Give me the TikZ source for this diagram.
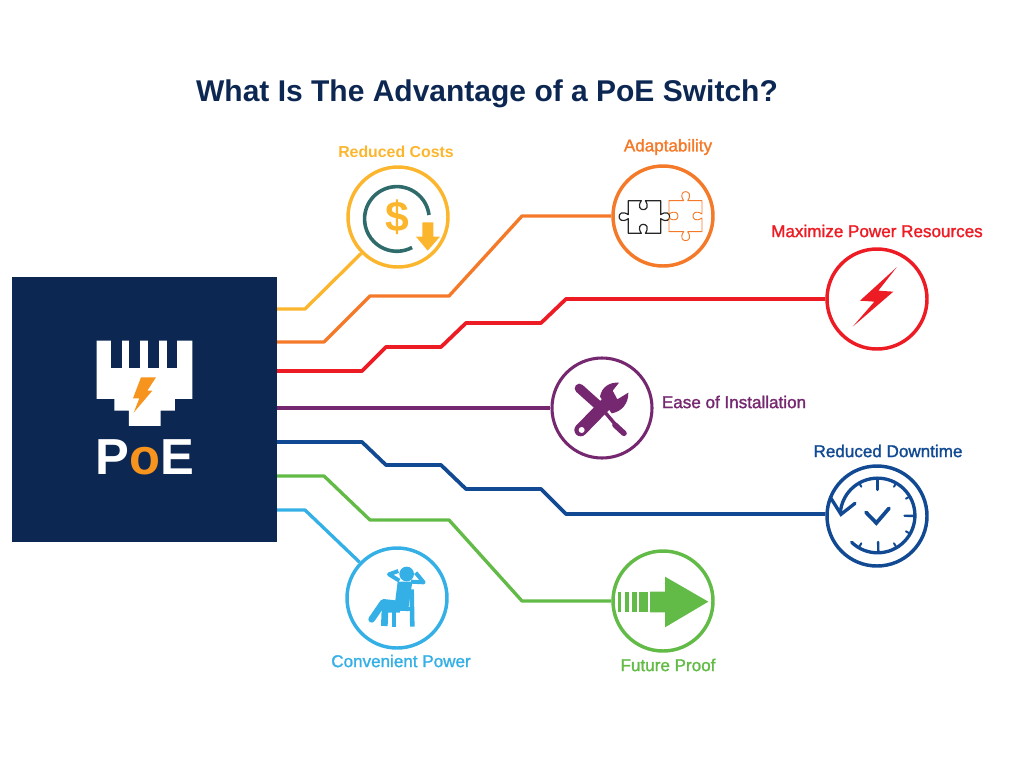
\documentclass[tikz,border=0pt]{standalone}
\usepackage{fontspec}
\setmainfont{Liberation Sans}
\newfontfamily\tagfont[FakeBold=1.5]{Liberation Sans}
\usetikzlibrary{calc}
\definecolor{navy}{HTML}{0D2753}
\definecolor{costcol}{HTML}{FBB62E}
\definecolor{adaptcol}{HTML}{F47A2A}
\definecolor{powercol}{HTML}{ED1C24}
\definecolor{easecol}{HTML}{75276F}
\definecolor{downcol}{HTML}{114A92}
\definecolor{futurecol}{HTML}{62BB46}
\definecolor{convcol}{HTML}{35B0E6}
\definecolor{tealcol}{HTML}{2F6B6B}
\definecolor{boltcol}{HTML}{F7941D}
\tikzset{
  ring/.style={circle, draw=#1, line width=2.6pt, minimum size=75pt, inner sep=0pt},
  link/.style={draw=#1, line width=2.5pt, line join=round},
  tag/.style={text=#1, font=\tagfont\fontsize{12.8}{14}\selectfont, inner sep=0pt}
}
\begin{document}
\begin{tikzpicture}[x=0.75pt, y=-0.75pt]
  \useasboundingbox (0,0) rectangle (1024,768);
  \node (title) at (487,94) [text=navy, font=\fontsize{22.5}{27}\selectfont\bfseries, inner sep=0pt] {What Is The Advantage of a PoE Switch?};
  \fill [navy] (12,277) rectangle (277,542);
  \coordinate (p1) at (277,309);
  \coordinate (p2) at (277,342);
  \coordinate (p3) at (277,371);
  \coordinate (p4) at (277,408);
  \coordinate (p5) at (277,442);
  \coordinate (p6) at (277,476);
  \coordinate (p7) at (277,510);
  \node (costs) at (398,217) [ring=costcol] {};
  \node (adapt) at (663,216) [ring=adaptcol] {};
  \node (power) at (877,299) [ring=powercol] {};
  \node (ease) at (602,408) [ring=easecol, line width=2.3pt] {};
  \node (down) at (877,516) [ring=downcol] {};
  \node (future) at (663,601) [ring=futurecol] {};
  \node (conv) at (397,598) [ring=convcol] {};
  \draw [link=costcol] (p1) -- (305,309) -- (costs);
  \draw [link=adaptcol] (p2) -- (324,342) -- (370,296) -- (449,296) -- (522,216) -- (adapt);
  \draw [link=powercol, line width=2.8pt] (p3) -- (362,371) -- (386,347) -- (441,347) -- (466,323) -- (541,323) -- (566,299) -- (power);
  \draw [link=easecol] (p4) -- (ease);
  \draw [link=downcol, line width=2.8pt] (p5) -- (362,442) -- (386,465) -- (441,465) -- (466,489) -- (541,489) -- (566,514) -- (down.west |- 566,514);
  \draw [link=futurecol] (p6) -- (324,476) -- (370,520) -- (449,520) -- (522,601) -- (future);
  \draw [link=convcol] (p7) -- (305,510) -- (conv);
  \node (coststag) at (396,152) [tag=costcol, font=\fontsize{11.9}{14}\selectfont\bfseries] {Reduced Costs};
  \node (adapttag) at (668,147) [tag=adaptcol] {Adaptability};
  \node (powertag) at (877,231) [tag=powercol] {Maximize Power Resources};
  \node (easetag) at (734,402) [tag=easecol] {Ease of Installation};
  \node (downtag) at (888,451) [tag=downcol] {Reduced Downtime};
  \node (futuretag) at (668,665) [tag=futurecol] {Future Proof};
  \node (convtag) at (401,661) [tag=convcol] {Convenient Power};
  \begin{scope}[shift={(60,320)}, scale=0.3333]
    \fill [white] (110,62) -- (397,62) -- (397,237) -- (345,237) -- (345,272) -- (302,272) -- (302,318) -- (207,318) -- (207,272) -- (163,272) -- (163,237) -- (110,237) -- cycle;
    \foreach \a/\b in {152/185, 208/240, 265/297, 320/352}
      \fill [navy] (\a,60) rectangle (\b,145);
    \fill [boltcol] (243,172) -- (288,172) -- (262,212) -- (277,212) -- (221,278) -- (238,235) -- (219,235) -- cycle;
    \node (poetext) at (254,412) [font=\fontsize{38}{40}\selectfont\bfseries, text=white, inner sep=0pt] {P\textcolor{boltcol}{o}E};
  \end{scope}
  \begin{scope}[shift={(330,140)}, scale=0.3333]
    \draw [tealcol, line width=2.7pt] (297,225) arc [start angle=-7, end angle=-298, radius=97];
    \fill [costcol] (277,247) -- (310,247) -- (310,290) -- (330,290) -- (293,332) -- (258,290) -- (277,290) -- cycle;
    \node (dollar) at (202,232) [font=\fontsize{32}{34}\selectfont\bfseries, text=costcol, inner sep=0pt] {\$};
  \end{scope}
  \begin{scope}[shift={(600,140)}, scale=0.3333]
    \draw [black!85, line width=0.9pt, line join=round] (85,182) -- (124,182) .. controls (100,218) and (160,218) .. (136,182) -- (182,182) -- (182,224) .. controls (218,200) and (218,260) .. (182,236) -- (182,280) -- (136,280) .. controls (160,244) and (100,244) .. (124,280) -- (85,280) -- (85,236) .. controls (48,260) and (48,200) .. (85,224) -- cycle;
    \draw [adaptcol, line width=0.7pt, line join=round] (207,182) -- (251,182) .. controls (227,146) and (287,146) .. (263,182) -- (306,182) -- (306,222) .. controls (270,198) and (270,258) .. (306,234) -- (306,275) -- (263,275) .. controls (287,311) and (227,311) .. (251,275) -- (207,275) -- (207,234) .. controls (243,258) and (243,198) .. (207,222) -- cycle;
  \end{scope}
  \begin{scope}[shift={(815,240)}, scale=0.3333]
    \fill [powercol] (245,82) -- (135,182) -- (178,185) -- (113,260) -- (235,155) -- (190,152) -- cycle;
  \end{scope}
  \begin{scope}[shift={(540,350)}, scale=0.3333]
    \draw [easecol, line width=7pt, line cap=round] (118,115) -- (185,175);
    \draw [easecol, line width=2.6pt] (185,175) -- (230,228);
    \draw [easecol, line width=4.2pt, line cap=round] (225,225) -- (252,250);
    \draw [easecol, line width=9.5pt, line cap=round] (122,240) -- (205,155);
    \fill [easecol] (180,140) .. controls (185,110) and (210,96) .. (237,98) -- (218,122) -- (232,148) -- (265,128) .. controls (266,160) and (245,185) .. (215,190) -- cycle;
    \fill [white] (125,240) circle [radius=9];
  \end{scope}
  \begin{scope}[shift={(815,455)}, scale=0.3333, line cap=round]
    \draw [downcol, line width=2.5pt] (110,262) arc [start angle=134, end angle=-175, radius=112];
    \draw [downcol, line width=2.5pt] (48,130) -- (78,178) -- (120,145);
    \draw [downcol, line width=2.8pt] (153,172) -- (184,204) -- (222,160);
    \foreach \a/\b in {188/75, 190/292, 300/183}
      \draw [downcol, line width=1.8pt] (\a,\b) -- ($(188,180)!0.72!(\a,\b)$);
    \foreach \ang in {-60,-30,30,60,120,-120}
      \draw [downcol, line width=1.5pt] ($(188,180)+(\ang:112)$) -- ($(188,180)+(\ang:98)$);
  \end{scope}
  \begin{scope}[shift={(600,540)}, scale=0.3333]
    \foreach \a/\b in {55/62, 75/87, 97/110, 118/145}
      \fill [futurecol] (\a,155) rectangle (\b,217);
    \fill [futurecol] (150,155) -- (195,155) -- (195,110) -- (325,185) -- (195,262) -- (195,217) -- (150,217) -- cycle;
  \end{scope}
  \begin{scope}[shift={(335,540)}, scale=0.3333, line join=round]
    \fill [convcol] (215,102) circle [radius=22];
    \draw [convcol, line width=3pt] (193,122) -- (162,103) -- (190,93);
    \draw [convcol, line width=3pt] (228,125) -- (266,127) -- (242,98);
    \fill [convcol] (188,125) -- (232,125) -- (219,214) -- (178,205) -- cycle;
    \draw [convcol, line width=5pt, line cap=round] (190,192) -- (145,187) -- (110,238);
    \draw [convcol, line width=5pt] (195,208) -- (150,208) -- (148,258);
    \draw [convcol, line width=3.4pt] (230,148) -- (232,260);
    \draw [convcol, line width=3pt] (175,208) -- (230,208);
    \draw [convcol, line width=2.8pt] (177,208) -- (177,260);
  \end{scope}
\end{tikzpicture}
\end{document}
